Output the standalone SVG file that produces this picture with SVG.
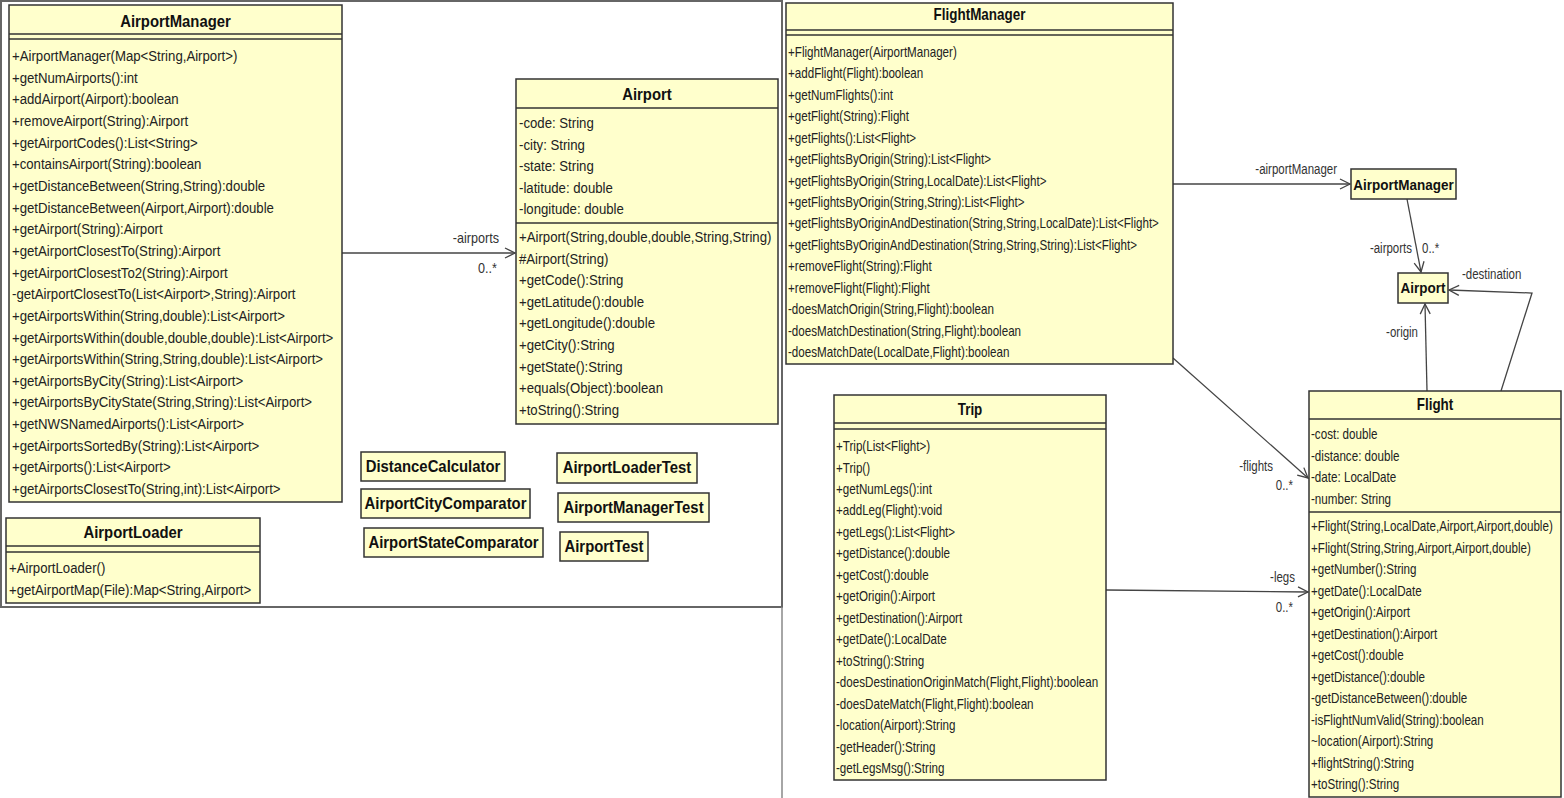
<svg xmlns="http://www.w3.org/2000/svg" width="1564" height="798" viewBox="0 0 1564 798">
<style>
.bx{fill:#FFFFCC;stroke:#333;stroke-width:1.5}
.sep{stroke:#333;stroke-width:1.3;fill:none}
.m{font-family:"Liberation Sans",Arial,sans-serif;font-size:15px;fill:#222}
.mr{font-family:"Liberation Sans",Arial,sans-serif;font-size:14px;fill:#222}
.t{font-family:"Liberation Sans",Arial,sans-serif;font-size:16px;font-weight:bold;fill:#111;text-anchor:middle}
.ts{font-family:"Liberation Sans",Arial,sans-serif;font-size:15px;font-weight:bold;fill:#111;text-anchor:middle}
.lb{font-family:"Liberation Sans",Arial,sans-serif;font-size:14px;fill:#333}
.e{text-anchor:end}
.cn{stroke:#444;stroke-width:1.3;fill:none;marker-end:url(#arr)}
.frame{fill:none;stroke:#666;stroke-width:2}
</style>
<defs>
<marker id="arr" markerUnits="userSpaceOnUse" markerWidth="14" markerHeight="14" refX="11" refY="6" orient="auto">
<path d="M1,1 L11,6 L1,11" fill="none" stroke="#444" stroke-width="1.3"/>
</marker>
</defs>
<rect width="1564" height="798" fill="#fff"/>
<g id="frame">
<rect class="frame" x="1" y="1" width="781" height="606"/>
<line x1="782" y1="607" x2="782" y2="798" stroke="#888" stroke-width="1.5"/>
</g>

<g id="connectors">
<line class="cn" x1="342" y1="253" x2="515" y2="253"/>
<text class="lb e" transform="translate(499,243) scale(.9,1)">-airports</text>
<text class="lb e" transform="translate(497,273) scale(.9,1)">0..*</text>

<line class="cn" x1="1173" y1="184" x2="1350" y2="184"/>
<text class="lb e" transform="translate(1337,174) scale(.82,1)">-airportManager</text>

<line class="cn" x1="1407" y1="199" x2="1421" y2="272"/>
<text class="lb e" transform="translate(1412,253) scale(.82,1)">-airports</text>
<text class="lb" transform="translate(1422,253) scale(.82,1)">0..*</text>

<line class="cn" x1="1427" y1="391" x2="1425" y2="304"/>
<text class="lb e" transform="translate(1418,337) scale(.82,1)">-origin</text>

<polyline class="cn" points="1501,391 1532,293 1449,290"/>
<text class="lb" transform="translate(1462,279) scale(.82,1)">-destination</text>

<line class="cn" x1="1173" y1="358" x2="1308" y2="478"/>
<text class="lb e" transform="translate(1273,471) scale(.82,1)">-flights</text>
<text class="lb e" transform="translate(1293,490) scale(.82,1)">0..*</text>

<line class="cn" x1="1106" y1="590" x2="1308" y2="592"/>
<text class="lb e" transform="translate(1295,582) scale(.82,1)">-legs</text>
<text class="lb e" transform="translate(1293,612) scale(.82,1)">0..*</text>
</g>

<g id="AirportManager">
<rect class="bx" x="9" y="5" width="333" height="497"/>
<line class="sep" x1="9" y1="34" x2="342" y2="34"/>
<line class="sep" x1="9" y1="39" x2="342" y2="39"/>
<text class="t" transform="translate(175.5,27) scale(.93,1)">AirportManager</text>
<text class="m" transform="translate(12,61) scale(.88,1)">+AirportManager(Map&lt;String,Airport&gt;)</text>
<text class="m" transform="translate(12,82.7) scale(.88,1)">+getNumAirports():int</text>
<text class="m" transform="translate(12,104.3) scale(.88,1)">+addAirport(Airport):boolean</text>
<text class="m" transform="translate(12,126) scale(.88,1)">+removeAirport(String):Airport</text>
<text class="m" transform="translate(12,147.6) scale(.88,1)">+getAirportCodes():List&lt;String&gt;</text>
<text class="m" transform="translate(12,169.3) scale(.88,1)">+containsAirport(String):boolean</text>
<text class="m" transform="translate(12,190.9) scale(.88,1)">+getDistanceBetween(String,String):double</text>
<text class="m" transform="translate(12,212.6) scale(.88,1)">+getDistanceBetween(Airport,Airport):double</text>
<text class="m" transform="translate(12,234.2) scale(.88,1)">+getAirport(String):Airport</text>
<text class="m" transform="translate(12,255.9) scale(.88,1)">+getAirportClosestTo(String):Airport</text>
<text class="m" transform="translate(12,277.5) scale(.88,1)">+getAirportClosestTo2(String):Airport</text>
<text class="m" transform="translate(12,299.2) scale(.88,1)">-getAirportClosestTo(List&lt;Airport&gt;,String):Airport</text>
<text class="m" transform="translate(12,320.8) scale(.88,1)">+getAirportsWithin(String,double):List&lt;Airport&gt;</text>
<text class="m" transform="translate(12,342.5) scale(.88,1)">+getAirportsWithin(double,double,double):List&lt;Airport&gt;</text>
<text class="m" transform="translate(12,364.1) scale(.88,1)">+getAirportsWithin(String,String,double):List&lt;Airport&gt;</text>
<text class="m" transform="translate(12,385.8) scale(.88,1)">+getAirportsByCity(String):List&lt;Airport&gt;</text>
<text class="m" transform="translate(12,407.4) scale(.88,1)">+getAirportsByCityState(String,String):List&lt;Airport&gt;</text>
<text class="m" transform="translate(12,429.1) scale(.88,1)">+getNWSNamedAirports():List&lt;Airport&gt;</text>
<text class="m" transform="translate(12,450.7) scale(.88,1)">+getAirportsSortedBy(String):List&lt;Airport&gt;</text>
<text class="m" transform="translate(12,472.4) scale(.88,1)">+getAirports():List&lt;Airport&gt;</text>
<text class="m" transform="translate(12,494) scale(.88,1)">+getAirportsClosestTo(String,int):List&lt;Airport&gt;</text>
</g>

<g id="AirportLoader">
<rect class="bx" x="6" y="518" width="254" height="85"/>
<line class="sep" x1="6" y1="546" x2="260" y2="546"/>
<line class="sep" x1="6" y1="552" x2="260" y2="552"/>
<text class="t" transform="translate(133,538) scale(.93,1)">AirportLoader</text>
<text class="m" transform="translate(9,573) scale(.88,1)">+AirportLoader()</text>
<text class="m" transform="translate(9,595) scale(.88,1)">+getAirportMap(File):Map&lt;String,Airport&gt;</text>
</g>

<g id="Airport">
<rect class="bx" x="516" y="79" width="262" height="345"/>
<line class="sep" x1="516" y1="108" x2="778" y2="108"/>
<line class="sep" x1="516" y1="223" x2="778" y2="223"/>
<text class="t" transform="translate(647,100) scale(.93,1)">Airport</text>
<text class="m" transform="translate(519,128) scale(.88,1)">-code: String</text>
<text class="m" transform="translate(519,149.6) scale(.88,1)">-city: String</text>
<text class="m" transform="translate(519,171.2) scale(.88,1)">-state: String</text>
<text class="m" transform="translate(519,192.8) scale(.88,1)">-latitude: double</text>
<text class="m" transform="translate(519,214.4) scale(.88,1)">-longitude: double</text>
<text class="m" transform="translate(519,242) scale(.88,1)">+Airport(String,double,double,String,String)</text>
<text class="m" transform="translate(519,263.6) scale(.88,1)">#Airport(String)</text>
<text class="m" transform="translate(519,285.2) scale(.88,1)">+getCode():String</text>
<text class="m" transform="translate(519,306.8) scale(.88,1)">+getLatitude():double</text>
<text class="m" transform="translate(519,328.4) scale(.88,1)">+getLongitude():double</text>
<text class="m" transform="translate(519,350) scale(.88,1)">+getCity():String</text>
<text class="m" transform="translate(519,371.6) scale(.88,1)">+getState():String</text>
<text class="m" transform="translate(519,393.2) scale(.88,1)">+equals(Object):boolean</text>
<text class="m" transform="translate(519,414.8) scale(.88,1)">+toString():String</text>
</g>

<g id="DistanceCalculator">
<rect class="bx" x="361" y="452" width="144" height="29"/>
<text class="t" transform="translate(433,472) scale(.93,1)">DistanceCalculator</text>
</g>
<g id="AirportCityComparator">
<rect class="bx" x="361" y="489" width="169" height="29"/>
<text class="t" transform="translate(445.5,509) scale(.93,1)">AirportCityComparator</text>
</g>
<g id="AirportStateComparator">
<rect class="bx" x="364" y="528" width="179" height="29"/>
<text class="t" transform="translate(453.5,548) scale(.93,1)">AirportStateComparator</text>
</g>
<g id="AirportLoaderTest">
<rect class="bx" x="557" y="453" width="140" height="30"/>
<text class="t" transform="translate(627,473) scale(.93,1)">AirportLoaderTest</text>
</g>
<g id="AirportManagerTest">
<rect class="bx" x="558" y="493" width="151" height="29"/>
<text class="t" transform="translate(633.5,513) scale(.93,1)">AirportManagerTest</text>
</g>
<g id="AirportTest">
<rect class="bx" x="560" y="532" width="88" height="29"/>
<text class="t" transform="translate(604,552) scale(.93,1)">AirportTest</text>
</g>

<g id="FlightManager">
<rect class="bx" x="786" y="3" width="387" height="361"/>
<line class="sep" x1="786" y1="30" x2="1173" y2="30"/>
<line class="sep" x1="786" y1="35" x2="1173" y2="35"/>
<text class="t" transform="translate(979.5,20) scale(.84,1)">FlightManager</text>
<text class="mr" transform="translate(788,57) scale(.83,1)">+FlightManager(AirportManager)</text>
<text class="mr" transform="translate(788,78.4) scale(.83,1)">+addFlight(Flight):boolean</text>
<text class="mr" transform="translate(788,99.9) scale(.83,1)">+getNumFlights():int</text>
<text class="mr" transform="translate(788,121.3) scale(.83,1)">+getFlight(String):Flight</text>
<text class="mr" transform="translate(788,142.7) scale(.83,1)">+getFlights():List&lt;Flight&gt;</text>
<text class="mr" transform="translate(788,164.2) scale(.83,1)">+getFlightsByOrigin(String):List&lt;Flight&gt;</text>
<text class="mr" transform="translate(788,185.6) scale(.83,1)">+getFlightsByOrigin(String,LocalDate):List&lt;Flight&gt;</text>
<text class="mr" transform="translate(788,207) scale(.83,1)">+getFlightsByOrigin(String,String):List&lt;Flight&gt;</text>
<text class="mr" transform="translate(788,228.4) scale(.83,1)">+getFlightsByOriginAndDestination(String,String,LocalDate):List&lt;Flight&gt;</text>
<text class="mr" transform="translate(788,249.9) scale(.83,1)">+getFlightsByOriginAndDestination(String,String,String):List&lt;Flight&gt;</text>
<text class="mr" transform="translate(788,271.3) scale(.83,1)">+removeFlight(String):Flight</text>
<text class="mr" transform="translate(788,292.7) scale(.83,1)">+removeFlight(Flight):Flight</text>
<text class="mr" transform="translate(788,314.2) scale(.83,1)">-doesMatchOrigin(String,Flight):boolean</text>
<text class="mr" transform="translate(788,335.6) scale(.83,1)">-doesMatchDestination(String,Flight):boolean</text>
<text class="mr" transform="translate(788,357) scale(.83,1)">-doesMatchDate(LocalDate,Flight):boolean</text>
</g>

<g id="AirportManagerRef">
<rect class="bx" x="1351" y="169" width="105" height="30"/>
<text class="ts" transform="translate(1403.5,190) scale(.9,1)">AirportManager</text>
</g>
<g id="AirportRef">
<rect class="bx" x="1398" y="273" width="50" height="30"/>
<text class="ts" transform="translate(1423,293) scale(.9,1)">Airport</text>
</g>

<g id="Trip">
<rect class="bx" x="834" y="395" width="272" height="385"/>
<line class="sep" x1="834" y1="423" x2="1106" y2="423"/>
<line class="sep" x1="834" y1="429" x2="1106" y2="429"/>
<text class="t" transform="translate(970,415) scale(.84,1)">Trip</text>
<text class="mr" transform="translate(836,451) scale(.83,1)">+Trip(List&lt;Flight&gt;)</text>
<text class="mr" transform="translate(836,472.5) scale(.83,1)">+Trip()</text>
<text class="mr" transform="translate(836,493.9) scale(.83,1)">+getNumLegs():int</text>
<text class="mr" transform="translate(836,515.4) scale(.83,1)">+addLeg(Flight):void</text>
<text class="mr" transform="translate(836,536.9) scale(.83,1)">+getLegs():List&lt;Flight&gt;</text>
<text class="mr" transform="translate(836,558.4) scale(.83,1)">+getDistance():double</text>
<text class="mr" transform="translate(836,579.8) scale(.83,1)">+getCost():double</text>
<text class="mr" transform="translate(836,601.3) scale(.83,1)">+getOrigin():Airport</text>
<text class="mr" transform="translate(836,622.8) scale(.83,1)">+getDestination():Airport</text>
<text class="mr" transform="translate(836,644.2) scale(.83,1)">+getDate():LocalDate</text>
<text class="mr" transform="translate(836,665.7) scale(.83,1)">+toString():String</text>
<text class="mr" transform="translate(836,687.2) scale(.83,1)">-doesDestinationOriginMatch(Flight,Flight):boolean</text>
<text class="mr" transform="translate(836,708.6) scale(.83,1)">-doesDateMatch(Flight,Flight):boolean</text>
<text class="mr" transform="translate(836,730.1) scale(.83,1)">-location(Airport):String</text>
<text class="mr" transform="translate(836,751.6) scale(.83,1)">-getHeader():String</text>
<text class="mr" transform="translate(836,773) scale(.83,1)">-getLegsMsg():String</text>
</g>

<g id="Flight">
<rect class="bx" x="1309" y="391" width="252" height="406"/>
<line class="sep" x1="1309" y1="419" x2="1561" y2="419"/>
<line class="sep" x1="1309" y1="512" x2="1561" y2="512"/>
<text class="t" transform="translate(1435,410) scale(.84,1)">Flight</text>
<text class="mr" transform="translate(1311,439) scale(.83,1)">-cost: double</text>
<text class="mr" transform="translate(1311,460.5) scale(.83,1)">-distance: double</text>
<text class="mr" transform="translate(1311,482) scale(.83,1)">-date: LocalDate</text>
<text class="mr" transform="translate(1311,503.5) scale(.83,1)">-number: String</text>
<text class="mr" transform="translate(1311,531) scale(.83,1)">+Flight(String,LocalDate,Airport,Airport,double)</text>
<text class="mr" transform="translate(1311,552.5) scale(.83,1)">+Flight(String,String,Airport,Airport,double)</text>
<text class="mr" transform="translate(1311,574) scale(.83,1)">+getNumber():String</text>
<text class="mr" transform="translate(1311,595.5) scale(.83,1)">+getDate():LocalDate</text>
<text class="mr" transform="translate(1311,617) scale(.83,1)">+getOrigin():Airport</text>
<text class="mr" transform="translate(1311,638.5) scale(.83,1)">+getDestination():Airport</text>
<text class="mr" transform="translate(1311,660) scale(.83,1)">+getCost():double</text>
<text class="mr" transform="translate(1311,681.5) scale(.83,1)">+getDistance():double</text>
<text class="mr" transform="translate(1311,703) scale(.83,1)">-getDistanceBetween():double</text>
<text class="mr" transform="translate(1311,724.5) scale(.83,1)">-isFlightNumValid(String):boolean</text>
<text class="mr" transform="translate(1311,746) scale(.83,1)">~location(Airport):String</text>
<text class="mr" transform="translate(1311,767.5) scale(.83,1)">+flightString():String</text>
<text class="mr" transform="translate(1311,789) scale(.83,1)">+toString():String</text>
</g>
</svg>
